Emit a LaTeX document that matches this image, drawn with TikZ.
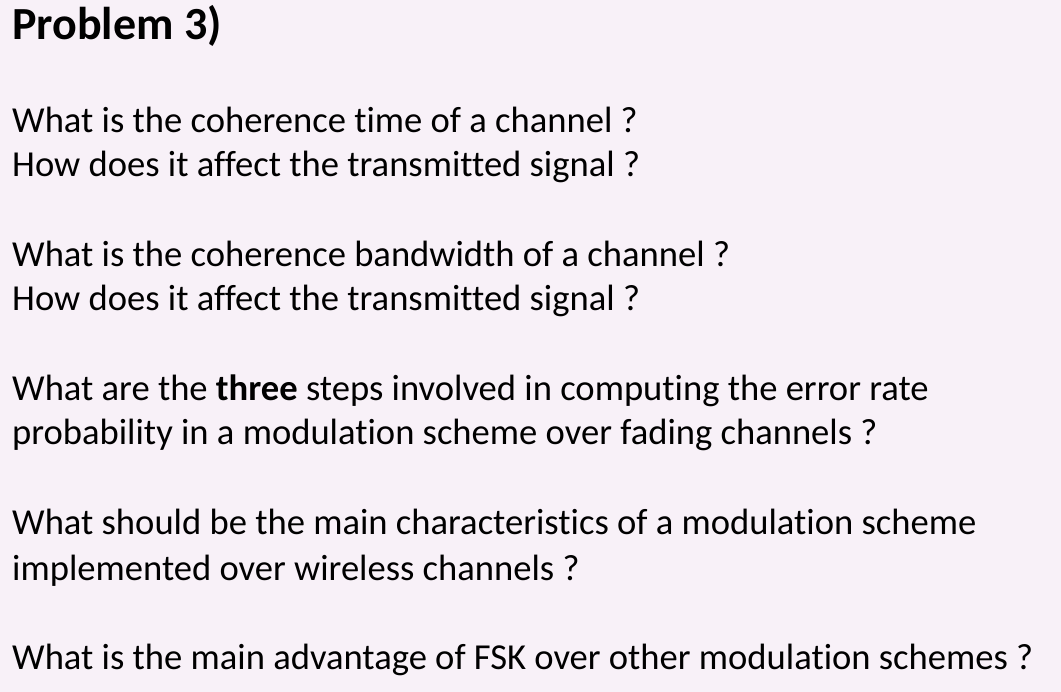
\documentclass[tikz,border=0pt]{standalone}
\usepackage{fontspec}
\setmainfont{Carlito}[Ligatures={NoCommon}]
\definecolor{bg}{HTML}{F8F1F8}
\begin{document}
\begin{tikzpicture}[x=1pt,y=-1pt,
  ln/.style={anchor=base west,inner sep=0pt,font=\fontsize{36.6}{44}\selectfont}]
\fill[bg] (0,0) rectangle (1061,692);
\useasboundingbox (0,0) rectangle (1061,692);
\node[anchor=base west,inner sep=0pt,font=\fontsize{46}{50}\selectfont\bfseries] (t) at (12,40) {Problem 3)};
\node[ln] (a) at (12,133) {What is the coherence time of a channel ?};
\node[ln] (b) at (12,177) {How does it affect the transmitted signal ?};
\node[ln] (c) at (12,267) {What is the coherence bandwidth of a channel ?};
\node[ln] (d) at (12,311) {How does it affect the transmitted signal ?};
\node[ln] (e) at (12,401) {What are the \textbf{three} steps involved in computing the error rate};
\node[ln] (f) at (12,445) {probability in a modulation scheme over fading channels ?};
\node[ln] (g) at (12,535) {What should be the main characteristics of a modulation scheme};
\node[ln] (h) at (12,580) {implemented over wireless channels ?};
\node[ln] (i) at (12,669) {What is the main advantage of FSK over other modulation schemes ?};
\end{tikzpicture}
\end{document}
